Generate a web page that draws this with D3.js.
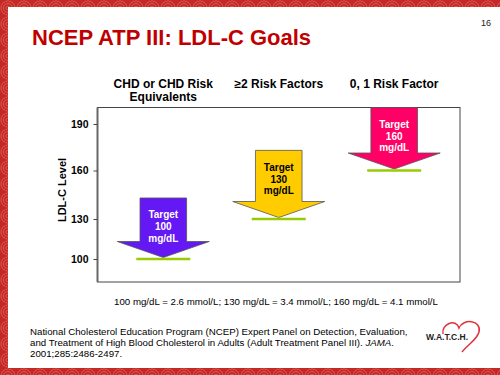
<!DOCTYPE html>
<html>
<head>
<meta charset="utf-8">
<script src="https://cdn.jsdelivr.net/npm/d3@7"></script>
<style>
  html, body { margin: 0; padding: 0; background: #fff; }
  svg { display: block; }
  text { font-family: Arial, "Liberation Sans", sans-serif; }
</style>
</head>
<body>
<div id="chart"></div>
<script>
// chart data
const categories = ["CHD or CHD Risk Equivalents", "≥2 Risk Factors", "0, 1 Risk Factor"];
const headerLines = [["CHD or CHD Risk", "Equivalents"], ["≥2 Risk Factors"], ["0, 1 Risk Factor"]];
const goals = [100, 130, 160];
const goalUnit = "mg/dL";
const arrowColors = ["#6418f4", "#ffcc00", "#ff0066"];
const arrowTextColors = ["#ffffff", "#000000", "#ffffff"];
const yTicks = [100, 130, 160, 190];
const yLabel = "LDL-C Level";
const title = "NCEP ATP III: LDL-C Goals";
const pageNumber = "16";
const conversion = "100 mg/dL = 2.6 mmol/L; 130 mg/dL = 3.4 mmol/L; 160 mg/dL = 4.1 mmol/L";

function drawSlide(element_id) {
	const W = 500, H = 375;
	const plot = {left: 97.5, right: 460, top: 107.5, bottom: 282};

	const svg = d3.select("#" + element_id)
		.append("svg")
		.attr("width", W)
		.attr("height", H);

	// swirly red frame
	const defs = svg.append("defs");
	const pat = defs.append("pattern")
		.attr("id", "swirl")
		.attr("width", 16).attr("height", 16)
		.attr("patternUnits", "userSpaceOnUse");
	pat.append("rect").attr("width", 16).attr("height", 16).attr("fill", "#c4282b");
	[2, 4.5, 7].forEach(r => {
		pat.append("circle").attr("cx", 8).attr("cy", 8).attr("r", r)
			.attr("fill", "none").attr("stroke", "#db5a45").attr("stroke-width", 1);
	});

	svg.append("rect").attr("width", W).attr("height", H).attr("fill", "url(#swirl)");
	svg.append("rect").attr("x", 8).attr("y", 7).attr("width", W - 8).attr("height", 361).attr("fill", "#fff");

	svg.append("text")
		.attr("x", 32).attr("y", 45)
		.attr("font-size", 22).attr("font-weight", "bold")
		.attr("fill", "#c00000")
		.text(title);

	svg.append("text")
		.attr("x", 491).attr("y", 26)
		.attr("text-anchor", "end")
		.attr("font-size", 9)
		.attr("fill", "#222")
		.text(pageNumber);

	// scales
	const x = d3.scalePoint()
		.domain(categories)
		.range([plot.left, plot.right])
		.padding(0.57);

	const y = d3.scaleLinear()
		.domain(yTicks)
		.range([259, 219, 170.5, 124]);

	// plot frame
	svg.append("rect")
		.attr("x", plot.left).attr("y", plot.top)
		.attr("width", plot.right - plot.left)
		.attr("height", plot.bottom - plot.top)
		.attr("fill", "none")
		.attr("stroke", "#444")
		.attr("stroke-width", 1);

	svg.append("line")
		.attr("x1", plot.left).attr("x2", plot.left)
		.attr("y1", plot.top).attr("y2", plot.bottom)
		.attr("stroke", "#666").attr("stroke-width", 2);

	const yAxis = svg.append("g")
		.attr("transform", "translate(" + plot.left + ",0)")
		.call(d3.axisLeft(y).tickValues(yTicks).tickSize(4).tickPadding(5));
	yAxis.select(".domain").remove();
	yAxis.selectAll("line").attr("stroke", "#444");
	yAxis.selectAll("text")
		.attr("font-size", 10.5).attr("font-weight", "bold")
		.attr("font-family", "Arial, 'Liberation Sans', sans-serif")
		.attr("fill", "#000");

	svg.append("text")
		.attr("transform", "translate(66,190) rotate(-90)")
		.attr("text-anchor", "middle")
		.attr("font-size", 11).attr("font-weight", "bold")
		.text(yLabel);

	// column headers
	categories.forEach((c, i) => {
		headerLines[i].forEach((line, j) => {
			svg.append("text")
				.attr("x", x(c)).attr("y", 87.5 + j * 13.5)
				.attr("text-anchor", "middle")
				.attr("font-size", 12).attr("font-weight", "bold")
				.text(line);
		});
	});

	// arrows
	const shaftHalf = 23.3, headHalf = 46, headLen = 16;
	categories.forEach((c, i) => {
		const cx = x(c);
		const tip = y(goals[i]) - 1.5;
		const base = tip - headLen;
		const top = Math.max(y(goals[i] + 43), plot.top);

		const pts = [
			[cx - shaftHalf, top], [cx + shaftHalf, top], [cx + shaftHalf, base],
			[cx + headHalf, base], [cx, tip], [cx - headHalf, base], [cx - shaftHalf, base]
		];
		svg.append("path")
			.attr("d", d3.line()(pts) + "Z")
			.attr("fill", arrowColors[i])
			.attr("stroke", "#555")
			.attr("stroke-width", 0.8);

		svg.append("line")
			.attr("x1", cx - 27).attr("x2", cx + 27)
			.attr("y1", y(goals[i])).attr("y2", y(goals[i]))
			.attr("stroke", "#99cc00").attr("stroke-width", 2.5);

		["Target", String(goals[i]), goalUnit].forEach((t, j) => {
			svg.append("text")
				.attr("x", cx).attr("y", top + 20.5 + j * 11.7)
				.attr("text-anchor", "middle")
				.attr("font-size", 10).attr("font-weight", "bold")
				.attr("fill", arrowTextColors[i])
				.text(t);
		});
	});

	svg.append("text")
		.attr("x", 276).attr("y", 304.5)
		.attr("text-anchor", "middle")
		.attr("font-size", 9.7)
		.text(conversion);

	// reference
	const ref = svg.append("g").attr("font-size", 9.7);
	ref.append("text").attr("x", 30).attr("y", 335)
		.text("National Cholesterol Education Program (NCEP) Expert Panel on Detection, Evaluation,");
	const l2 = ref.append("text").attr("x", 30).attr("y", 346);
	l2.append("tspan").text("and Treatment of High Blood Cholesterol in Adults (Adult Treatment Panel III). ");
	l2.append("tspan").attr("font-style", "italic").text("JAMA");
	l2.append("tspan").text(".");
	ref.append("text").attr("x", 30).attr("y", 357).text("2001;285:2486-2497.");

	// W.A.T.C.H. logo
	svg.append("path")
		.attr("d", "M443,334 C441,324 456,318 459,328 C463,318 482,320 479,332 C477,340 467,345 462,352")
		.attr("fill", "none")
		.attr("stroke", "#e0303a")
		.attr("stroke-width", 1.5);
	svg.append("text")
		.attr("x", 447).attr("y", 340)
		.attr("text-anchor", "middle")
		.attr("font-size", 8.5)
		.attr("font-weight", "bold")
		.attr("font-family", "'Liberation Serif', 'DejaVu Serif', serif")
		.attr("fill", "#222")
		.text("W.A.T.C.H.");
}

function whenDocumentLoaded(action) {
	if (document.readyState === "loading") {
		document.addEventListener("DOMContentLoaded", action);
	} else {
		action();
	}
}

whenDocumentLoaded(() => drawSlide("chart"));
</script>
</body>
</html>
